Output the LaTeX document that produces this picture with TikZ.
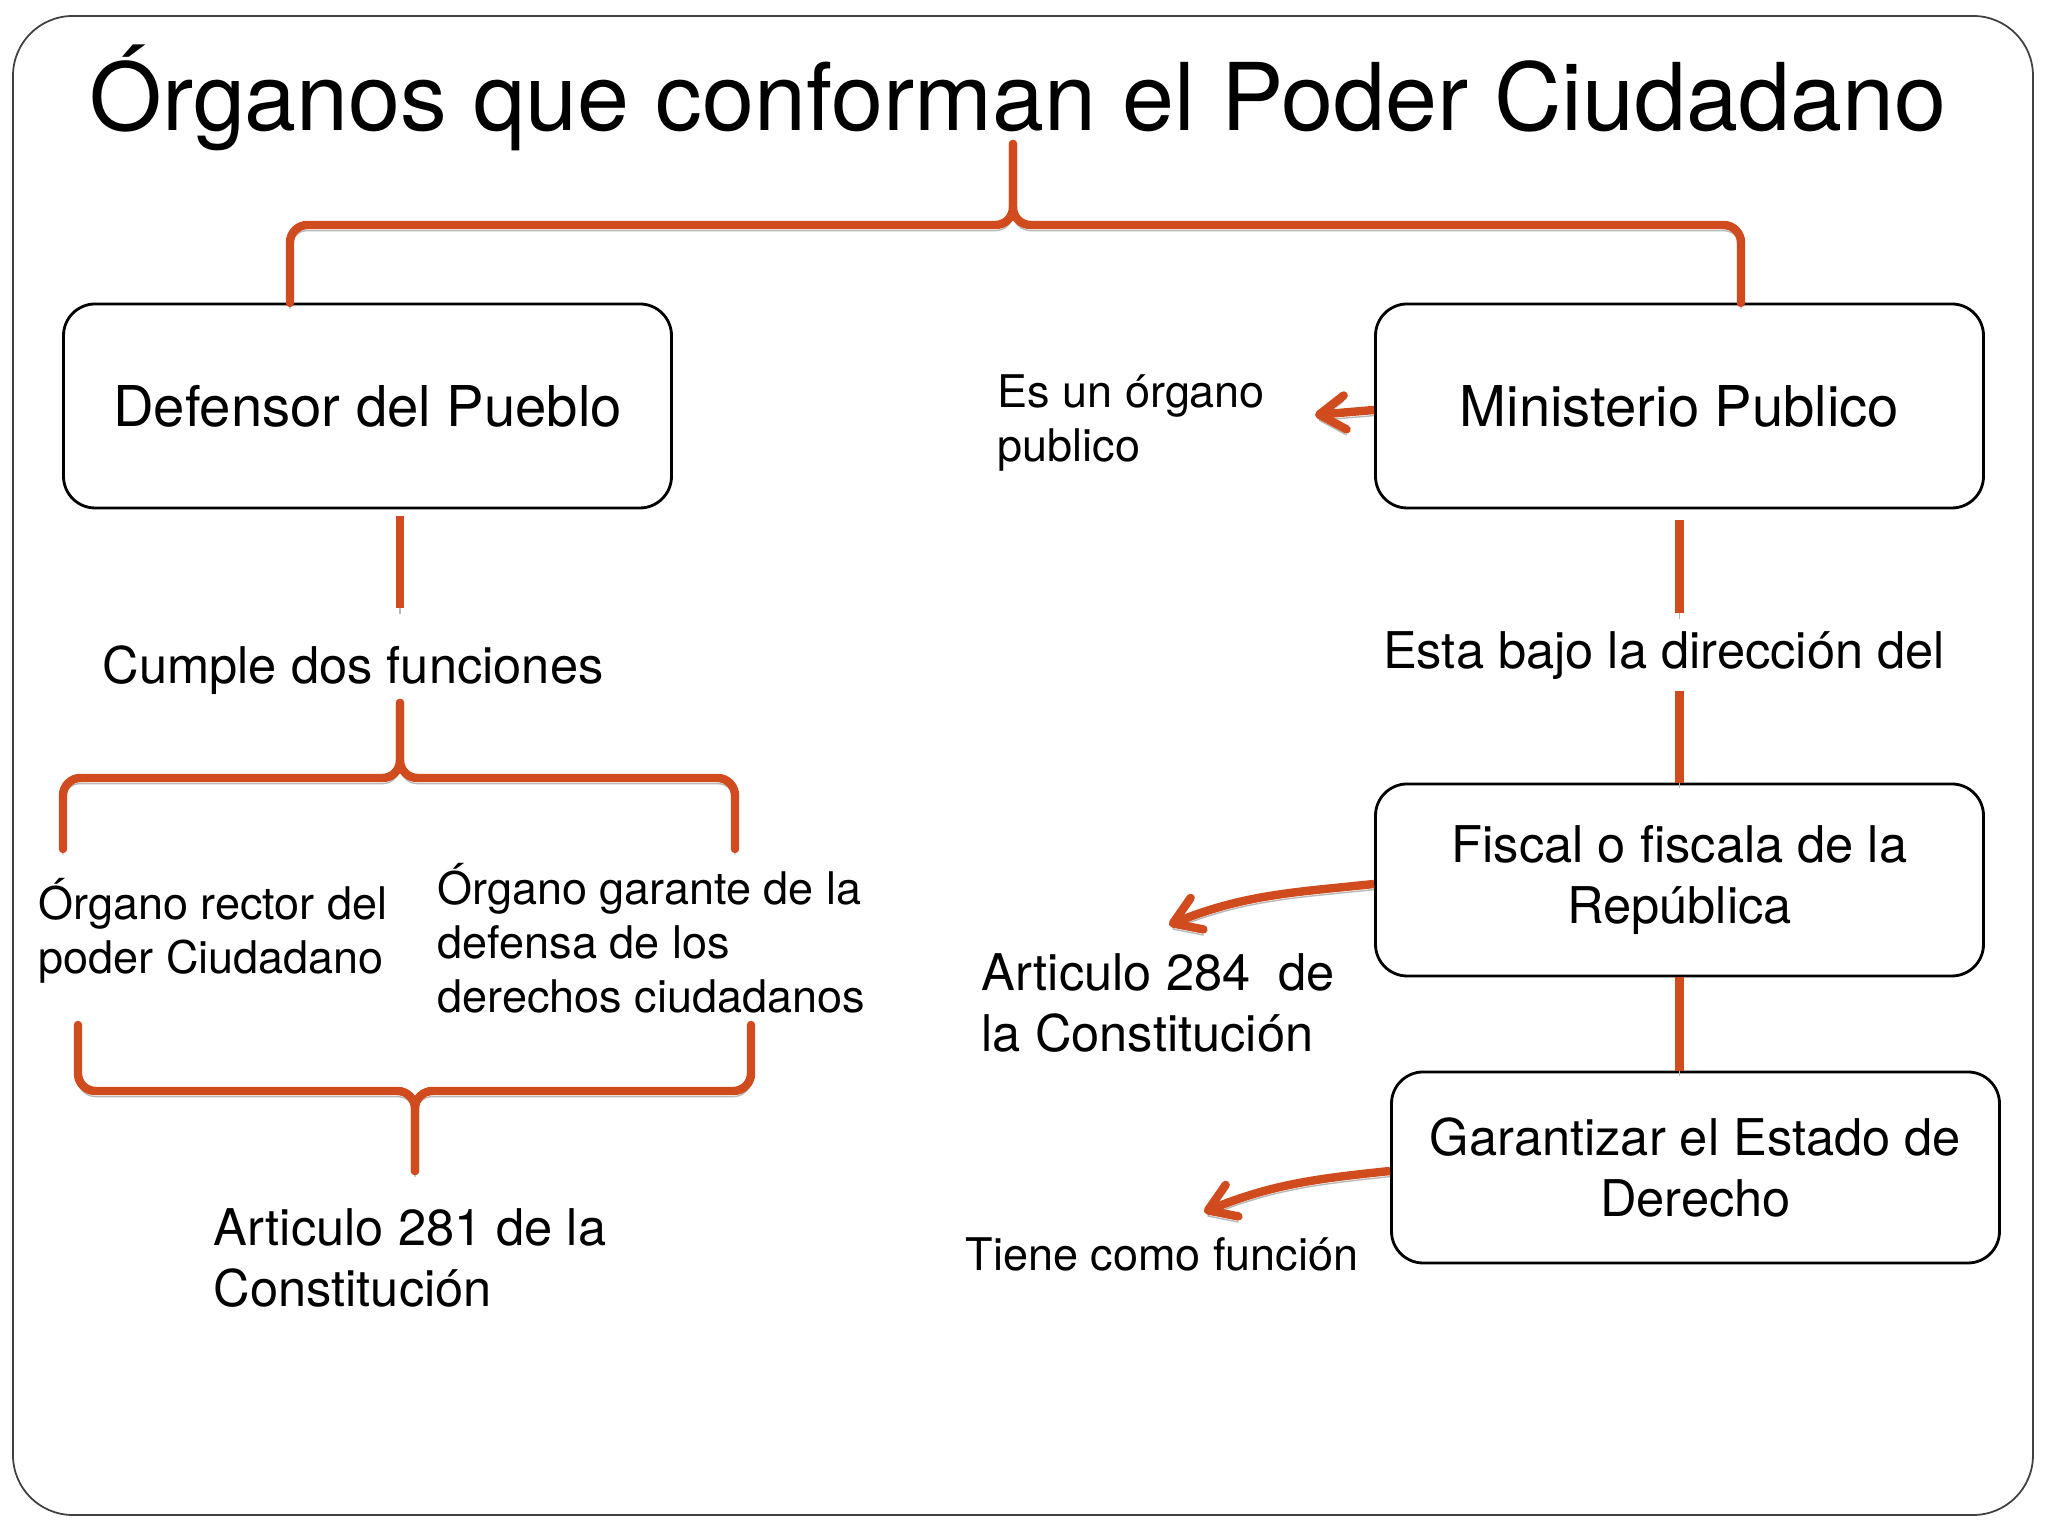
\documentclass[tikz,border=0pt]{standalone}
\usepackage{fontspec}
\setmainfont{TeX Gyre Heros}
\usetikzlibrary{arrows.meta}
\definecolor{naranja}{RGB}{208,76,30}
\newcommand{\titulo}{\fontsize{26.6}{32}\selectfont}
\newcommand{\grande}{\fontsize{16}{19.2}\selectfont}
\newcommand{\media}{\fontsize{14.4}{17.4}\selectfont}
\newcommand{\chica}{\fontsize{12.8}{15.4}\selectfont}

\begin{document}
\begin{tikzpicture}[
		caja/.style={draw, line width=0.8pt, rounded corners=9pt, minimum width=6.08cm, align=center},
		texto/.style={inner sep=0pt, align=left},
		sombra/.style={preaction={draw=black!28, transform canvas={yshift=-1.6pt}}},
		llave/.style={draw=naranja, line width=2.4pt, rounded corners=5pt, line cap=round, sombra},
		linea/.style={draw=naranja, line width=2.4pt, sombra},
		flecha/.style={draw=naranja, line width=2.4pt, sombra,
				-{Straight Barb[length=0.26cm, width=0.34cm, round]}}
	]
	\useasboundingbox (0,0) rectangle (20.48,15.36);
	\draw[black!75, line width=0.5pt, rounded corners=17pt] (0.13,0.21) rectangle (20.33,15.20);

	\node[font=\titulo, anchor=base] (titulo) at (10.18,14.05) {Órganos que conforman el Poder Ciudadano};

	% cajas
	\node[caja, minimum height=2.04cm, font=\grande] (defensor) at (3.675,11.30) {Defensor del Pueblo};
	\node[caja, minimum height=2.04cm, font=\grande] (ministerio) at (16.795,11.30) {Ministerio Publico};
	\node[caja, minimum height=1.92cm, font=\media] (fiscal) at (16.795,6.56) {Fiscal o fiscala de la\\República};
	\node[caja, minimum height=1.91cm, font=\media] (garantizar) at (16.955,3.685) {Garantizar el Estado de\\Derecho};

	% textos sueltos (base = ultima linea)
	\node[texto, font=\chica, anchor=base west] (organo) at (9.97,10.745) {Es un órgano\\publico};
	\node[texto, font=\media, anchor=base] (cumple) at (3.53,8.52) {Cumple dos funciones};
	\node[texto, font=\chica, anchor=base west] (rector) at (0.38,5.627) {Órgano rector del\\poder Ciudadano};
	\node[texto, font=\chica, anchor=base west] (garante) at (4.37,5.234) {Órgano garante de la\\defensa de los\\derechos ciudadanos};
	\node[texto, font=\media, anchor=base west] (art281) at (2.13,2.29) {Articulo 281 de la\\Constitución};
	\node[texto, font=\media, anchor=base] (bajo) at (16.64,8.67) {Esta bajo la dirección del};
	\node[texto, font=\media, anchor=base west] (art284) at (9.81,4.846) {Articulo 284\ \ de\\la Constitución};
	\node[texto, font=\chica, anchor=base west] (tiene) at (9.65,2.65) {Tiene como función};

	% llaves
	\coordinate (pico1) at (10.13,13.92);
	\coordinate (pico2) at (4.00,8.33);
	\coordinate (pico3) at (4.15,3.65);
	\draw[llave] (2.90,12.33) -- (2.90,13.11) -- (10.13,13.11) -- (pico1);
	\draw[llave] (17.41,12.33) -- (17.41,13.11) -- (10.13,13.11) -- (pico1);
	\draw[llave] (0.63,6.87) -- (0.63,7.58) -- (4.00,7.58) -- (pico2);
	\draw[llave] (7.35,6.87) -- (7.35,7.58) -- (4.00,7.58) -- (pico2);
	\draw[llave] (0.78,5.11) -- (0.78,4.45) -- (4.15,4.45) -- (pico3);
	\draw[llave] (7.51,5.11) -- (7.51,4.45) -- (4.15,4.45) -- (pico3);

	% lineas
	\draw[linea, shorten <=2pt, shorten >=0.37cm] (defensor.south -| pico2) -- (pico2 |- cumple.north);
	\draw[linea, shorten <=3pt, shorten >=0.18cm] (ministerio.south) -- (ministerio.south |- bajo.north);
	\draw[linea, shorten <=0.1cm] (ministerio.south |- bajo.south) -- (fiscal.north);
	\draw[linea] (fiscal.south) -- (fiscal.south |- garantizar.north);

	% flechas
	\coordinate (f1) at (13.15,11.21);
	\coordinate (f2) at (11.69,6.11);
	\coordinate (f3) at (12.04,3.24);
	\draw[flecha] (ministerio.west |- 0,11.26) -- (f1);
	\draw[flecha] (fiscal.west |- 0,6.52) to[out=186, in=22] (f2);
	\draw[flecha] (garantizar.west |- 0,3.65) to[out=186, in=22] (f3);
\end{tikzpicture}
\end{document}
